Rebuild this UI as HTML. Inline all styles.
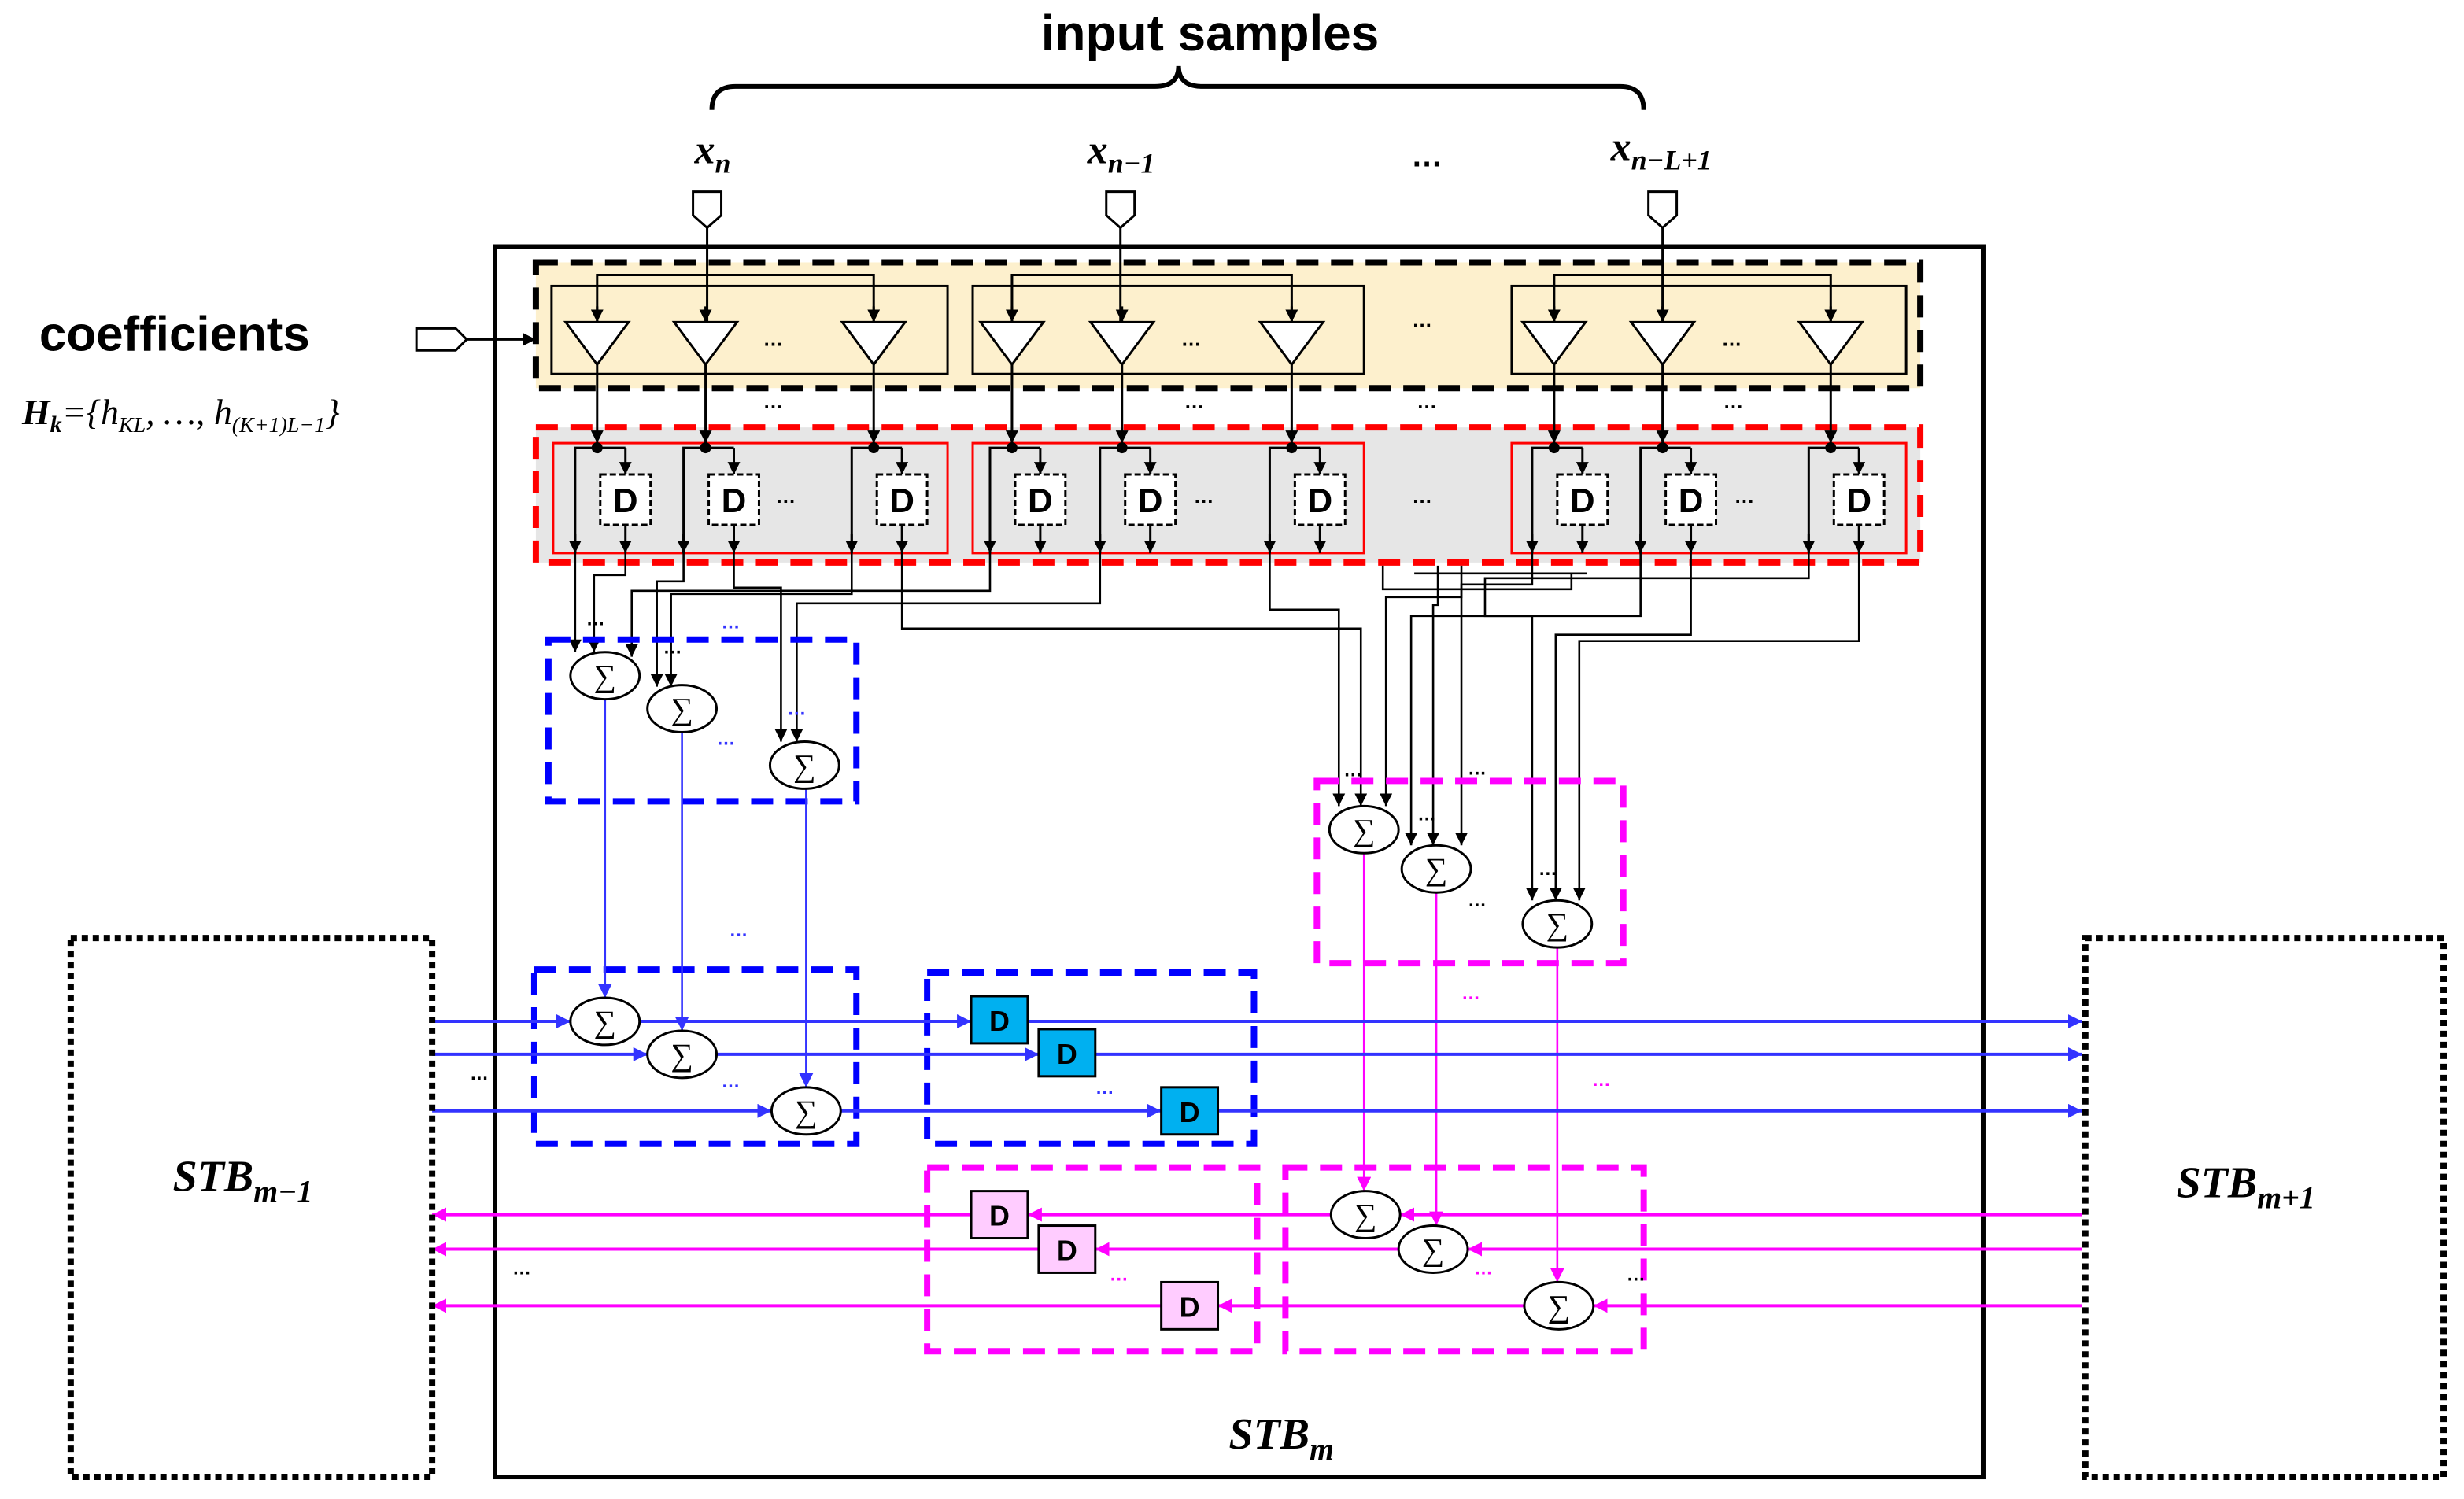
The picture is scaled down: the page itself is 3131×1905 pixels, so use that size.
<!DOCTYPE html>
<html><head><meta charset="utf-8"><style>
html,body{margin:0;padding:0;background:#fff;}
svg{display:block;}
text{font-family:"Liberation Sans",sans-serif;}
text.s,.s text,.s tspan{font-family:"Liberation Serif",serif;}
</style></head><body>
<svg width="3131" height="1905" viewBox="0 0 1568 954" preserveAspectRatio="none" xmlns="http://www.w3.org/2000/svg">
<defs>
<marker id="ak" viewBox="0 0 10 10" refX="10" refY="5" markerWidth="8" markerHeight="8" markerUnits="userSpaceOnUse" orient="auto"><path d="M0,0L10,5L0,10z" fill="#000"/></marker>
<marker id="ab" viewBox="0 0 10 10" refX="10" refY="5" markerWidth="9" markerHeight="9" markerUnits="userSpaceOnUse" orient="auto"><path d="M0,0L10,5L0,10z" fill="#3333ff"/></marker>
<marker id="am" viewBox="0 0 10 10" refX="10" refY="5" markerWidth="9" markerHeight="9" markerUnits="userSpaceOnUse" orient="auto"><path d="M0,0L10,5L0,10z" fill="#ff00ff"/></marker>
</defs>

<!-- header -->
<text x="770" y="32" font-size="32" font-weight="bold" text-anchor="middle">input samples</text>
<path d="M453,70 Q453,55 468,55 L735,55 Q750,55 750,42 Q750,55 765,55 L1031,55 Q1046,55 1046,70" fill="none" stroke="#000" stroke-width="3"/>
<text x="442" y="104" class="s" font-size="26" font-weight="bold" font-style="italic">x<tspan font-size="18" dy="6">n</tspan></text>
<text x="692" y="104" class="s" font-size="26" font-weight="bold" font-style="italic">x<tspan font-size="18" dy="6">n−1</tspan></text>
<text x="908" y="106" font-size="20" font-weight="bold" text-anchor="middle">…</text>
<text x="1025" y="102" class="s" font-size="26" font-weight="bold" font-style="italic">x<tspan font-size="18" dy="6">n−L+1</tspan></text>
<g fill="#fff" stroke="#000" stroke-width="1.5">
<path d="M441,122 H459 V137 L450,145 L441,137 Z"/>
<path d="M704,122 H722 V137 L713,145 L704,137 Z"/>
<path d="M1049,122 H1067 V137 L1058,145 L1049,137 Z"/>
</g>

<!-- STB m box -->
<rect x="315" y="157" width="947" height="783" fill="none" stroke="#000" stroke-width="3"/>

<!-- coefficients -->
<text x="25" y="223" font-size="31" font-weight="bold">coefficients</text>
<path d="M265,209 H290 L297,216 L290,223 H265 Z" fill="#fff" stroke="#000" stroke-width="1.5"/>
<line x1="297" y1="216" x2="341" y2="216" stroke="#000" stroke-width="1.5" marker-end="url(#ak)"/>
<text x="14" y="270" class="s" font-size="23" font-style="italic"><tspan font-weight="bold">H</tspan><tspan font-size="15" dy="5" font-weight="bold">k</tspan><tspan dy="-5">={h</tspan><tspan font-size="14" dy="5">KL</tspan><tspan dy="-5">, …, h</tspan><tspan font-size="14" dy="5">(K+1)L−1</tspan><tspan dy="-5">}</tspan></text>

<!-- yellow region -->
<rect x="341" y="167" width="881" height="80" fill="#fdf0cd" stroke="#000" stroke-width="4" stroke-dasharray="14,8"/>
<g fill="none" stroke="#000" stroke-width="1.5">
<rect x="351" y="182" width="252" height="56"/>
<rect x="619" y="182" width="249" height="56"/>
<rect x="962" y="182" width="251" height="56"/>
</g>
<!-- red region -->
<rect x="341" y="272" width="881" height="86" fill="#e6e6e6" stroke="#ff0000" stroke-width="4" stroke-dasharray="14,8"/>
<g fill="none" stroke="#ff0000" stroke-width="1.5">
<rect x="352" y="282" width="251" height="70"/>
<rect x="619" y="282" width="249" height="70"/>
<rect x="962" y="282" width="251" height="70"/>
</g>

<!-- distribution -->
<g fill="none" stroke="#000" stroke-width="1.5">
<path d="M380,205 V175 H556 V205"/>
<path d="M644,205 V175 H822 V205"/>
<path d="M989,205 V175 H1165 V205"/>
<line x1="450" y1="145" x2="450" y2="205"/>
<line x1="713" y1="145" x2="713" y2="205"/>
<line x1="1058" y1="145" x2="1058" y2="205"/>
</g>
<g stroke="#000" stroke-width="1.5" marker-end="url(#ak)">
<line x1="380" y1="195" x2="380" y2="205"/><line x1="449" y1="195" x2="449" y2="205"/><line x1="556" y1="195" x2="556" y2="205"/>
<line x1="644" y1="195" x2="644" y2="205"/><line x1="714" y1="195" x2="714" y2="205"/><line x1="822" y1="195" x2="822" y2="205"/>
<line x1="989" y1="195" x2="989" y2="205"/><line x1="1058" y1="195" x2="1058" y2="205"/><line x1="1165" y1="195" x2="1165" y2="205"/>
</g>
<!-- triangles -->
<g fill="#fff" stroke="#000" stroke-width="1.5">
<polygon points="360,205 400,205 380,232"/><polygon points="429,205 469,205 449,232"/><polygon points="536,205 576,205 556,232"/>
<polygon points="624,205 664,205 644,232"/><polygon points="694,205 734,205 714,232"/><polygon points="802,205 842,205 822,232"/>
<polygon points="969,205 1009,205 989,232"/><polygon points="1038,205 1078,205 1058,232"/><polygon points="1145,205 1185,205 1165,232"/>
</g>
<g font-size="13" font-weight="bold" text-anchor="middle">
<text x="492" y="220">…</text><text x="758" y="220">…</text><text x="905" y="208">…</text><text x="1102" y="220">…</text>
<text x="492" y="260">…</text><text x="760" y="260">…</text><text x="908" y="260">…</text><text x="1103" y="260">…</text>
<text x="500" y="320">…</text><text x="766" y="320">…</text><text x="905" y="320">…</text><text x="1110" y="320">…</text>
</g>

<!-- triangle outputs, taps, D -->
<g stroke="#000" stroke-width="1.5" fill="none">
<path d="M366,352 V285 H398" /><path d="M435,352 V285 H467"/><path d="M542,352 V285 H574"/>
<path d="M630,352 V285 H662" /><path d="M700,352 V285 H732"/><path d="M808,352 V285 H840"/>
<path d="M975,352 V285 H1007" /><path d="M1044,352 V285 H1076"/><path d="M1151,352 V285 H1183"/>
</g>
<g stroke="#000" stroke-width="1.5" marker-end="url(#ak)">
<line x1="380" y1="232" x2="380" y2="282"/><line x1="449" y1="232" x2="449" y2="282"/><line x1="556" y1="232" x2="556" y2="282"/>
<line x1="644" y1="232" x2="644" y2="282"/><line x1="714" y1="232" x2="714" y2="282"/><line x1="822" y1="232" x2="822" y2="282"/>
<line x1="989" y1="232" x2="989" y2="282"/><line x1="1058" y1="232" x2="1058" y2="282"/><line x1="1165" y1="232" x2="1165" y2="282"/>
<line x1="366" y1="340" x2="366" y2="352"/><line x1="435" y1="340" x2="435" y2="352"/><line x1="542" y1="340" x2="542" y2="352"/>
<line x1="630" y1="340" x2="630" y2="352"/><line x1="700" y1="340" x2="700" y2="352"/><line x1="808" y1="340" x2="808" y2="352"/>
<line x1="975" y1="340" x2="975" y2="352"/><line x1="1044" y1="340" x2="1044" y2="352"/><line x1="1151" y1="340" x2="1151" y2="352"/>
<line x1="398" y1="285" x2="398" y2="302"/><line x1="467" y1="285" x2="467" y2="302"/><line x1="574" y1="285" x2="574" y2="302"/>
<line x1="662" y1="285" x2="662" y2="302"/><line x1="732" y1="285" x2="732" y2="302"/><line x1="840" y1="285" x2="840" y2="302"/>
<line x1="1007" y1="285" x2="1007" y2="302"/><line x1="1076" y1="285" x2="1076" y2="302"/><line x1="1183" y1="285" x2="1183" y2="302"/>
<line x1="398" y1="334" x2="398" y2="352"/><line x1="467" y1="334" x2="467" y2="352"/><line x1="574" y1="334" x2="574" y2="352"/>
<line x1="662" y1="334" x2="662" y2="352"/><line x1="732" y1="334" x2="732" y2="352"/><line x1="840" y1="334" x2="840" y2="352"/>
<line x1="1007" y1="334" x2="1007" y2="352"/><line x1="1076" y1="334" x2="1076" y2="352"/><line x1="1183" y1="334" x2="1183" y2="352"/>
</g>
<g fill="#000">
<circle cx="380" cy="285" r="3.5"/><circle cx="449" cy="285" r="3.5"/><circle cx="556" cy="285" r="3.5"/>
<circle cx="644" cy="285" r="3.5"/><circle cx="714" cy="285" r="3.5"/><circle cx="822" cy="285" r="3.5"/>
<circle cx="989" cy="285" r="3.5"/><circle cx="1058" cy="285" r="3.5"/><circle cx="1165" cy="285" r="3.5"/>
</g>
<g fill="#fff" stroke="#000" stroke-width="1.5" stroke-dasharray="4,2">
<rect x="382" y="302" width="32" height="32"/><rect x="451" y="302" width="32" height="32"/><rect x="558" y="302" width="32" height="32"/>
<rect x="646" y="302" width="32" height="32"/><rect x="716" y="302" width="32" height="32"/><rect x="824" y="302" width="32" height="32"/>
<rect x="991" y="302" width="32" height="32"/><rect x="1060" y="302" width="32" height="32"/><rect x="1167" y="302" width="32" height="32"/>
</g>
<g font-size="22" font-weight="bold" text-anchor="middle">
<text x="398" y="326">D</text><text x="467" y="326">D</text><text x="574" y="326">D</text>
<text x="662" y="326">D</text><text x="732" y="326">D</text><text x="840" y="326">D</text>
<text x="1007" y="326">D</text><text x="1076" y="326">D</text><text x="1183" y="326">D</text>
</g>

<!-- routing to top sigmas -->
<g fill="none" stroke="#000" stroke-width="1.3" marker-end="url(#ak)">
<path d="M366,352 V415"/>
<path d="M398,352 V366 H378 V415"/>
<path d="M630,352 V376 H402 V418"/>
<path d="M435,352 V370 H418 V437"/>
<path d="M542,352 V378 H427 V437"/>
<path d="M467,352 V374 H497 V472"/>
<path d="M700,352 V384 H507 V472"/>
<path d="M808,352 V388 H852 V513"/>
<path d="M574,352 V400 H866 V513"/>
<path d="M930,360 V380 H882 V513"/>
<path d="M1044,352 V392 H898 V538"/>
<path d="M915,360 V385 H912 V538"/>
<path d="M975,352 V372 H930 V538"/>
<path d="M1151,352 V368 H945 V392 H975 V573"/>
<path d="M1076,352 V404 H990 V573"/>
<path d="M1183,352 V408 H1005 V573"/>
</g>
<g fill="none" stroke="#000" stroke-width="1.3">
<path d="M880,360 V375 H1000 V365"/>
<path d="M900,365 H1010"/>
</g>

<!-- blue dashed boxes -->
<g fill="none" stroke="#0000ff" stroke-width="4" stroke-dasharray="14,8">
<rect x="349" y="407" width="196" height="103"/>
<rect x="340" y="617" width="205" height="111"/>
<rect x="590" y="619" width="208" height="109"/>
</g>
<g fill="none" stroke="#ff00ff" stroke-width="4" stroke-dasharray="14,8">
<rect x="838" y="497" width="195" height="116"/>
<rect x="590" y="743" width="210" height="117"/>
<rect x="818" y="743" width="228" height="117"/>
</g>

<!-- vertical connectors -->
<g stroke="#3333ff" stroke-width="1.3" marker-end="url(#ab)">
<line x1="385" y1="445" x2="385" y2="635"/>
<line x1="434" y1="466" x2="434" y2="656"/>
<line x1="513" y1="502" x2="513" y2="692"/>
</g>
<g stroke="#ff00ff" stroke-width="1.3" marker-end="url(#am)">
<line x1="868" y1="543" x2="868" y2="758"/>
<line x1="914" y1="568" x2="914" y2="780"/>
<line x1="991" y1="603" x2="991" y2="816"/>
</g>

<!-- horizontal buses -->
<g stroke="#3333ff" stroke-width="2" marker-end="url(#ab)">
<line x1="275" y1="650" x2="363" y2="650"/>
<line x1="407" y1="650" x2="618" y2="650"/>
<line x1="654" y1="650" x2="1325" y2="650"/>
<line x1="275" y1="671" x2="412" y2="671"/>
<line x1="456" y1="671" x2="661" y2="671"/>
<line x1="697" y1="671" x2="1325" y2="671"/>
<line x1="275" y1="707" x2="491" y2="707"/>
<line x1="535" y1="707" x2="739" y2="707"/>
<line x1="775" y1="707" x2="1325" y2="707"/>
</g>
<g stroke="#ff00ff" stroke-width="2" marker-end="url(#am)">
<line x1="1325" y1="773" x2="891" y2="773"/>
<line x1="847" y1="773" x2="654" y2="773"/>
<line x1="618" y1="773" x2="275" y2="773"/>
<line x1="1325" y1="795" x2="934" y2="795"/>
<line x1="890" y1="795" x2="697" y2="795"/>
<line x1="661" y1="795" x2="275" y2="795"/>
<line x1="1325" y1="831" x2="1014" y2="831"/>
<line x1="970" y1="831" x2="775" y2="831"/>
<line x1="739" y1="831" x2="275" y2="831"/>
</g>

<!-- sigmas -->
<g fill="#fff" stroke="#000" stroke-width="1.5">
<ellipse cx="385" cy="430" rx="22" ry="15"/><ellipse cx="434" cy="451" rx="22" ry="15"/><ellipse cx="512" cy="487" rx="22" ry="15"/>
<ellipse cx="868" cy="528" rx="22" ry="15"/><ellipse cx="914" cy="553" rx="22" ry="15"/><ellipse cx="991" cy="588" rx="22" ry="15"/>
<ellipse cx="385" cy="650" rx="22" ry="15"/><ellipse cx="434" cy="671" rx="22" ry="15"/><ellipse cx="513" cy="707" rx="22" ry="15"/>
<ellipse cx="869" cy="773" rx="22" ry="15"/><ellipse cx="912" cy="795" rx="22" ry="15"/><ellipse cx="992" cy="831" rx="22" ry="15"/>
</g>
<g class="s" font-size="20" text-anchor="middle">
<text x="385" y="437">∑</text><text x="434" y="458">∑</text><text x="512" y="494">∑</text>
<text x="868" y="535">∑</text><text x="914" y="560">∑</text><text x="991" y="595">∑</text>
<text x="385" y="657">∑</text><text x="434" y="678">∑</text><text x="513" y="714">∑</text>
<text x="869" y="780">∑</text><text x="912" y="802">∑</text><text x="992" y="838">∑</text>
</g>

<!-- delay squares -->
<g stroke="#000" stroke-width="1.5">
<rect x="618" y="634" width="36" height="30" fill="#00b0f0"/>
<rect x="661" y="655" width="36" height="30" fill="#00b0f0"/>
<rect x="739" y="692" width="36" height="30" fill="#00b0f0"/>
<rect x="618" y="758" width="36" height="30" fill="#ffccff"/>
<rect x="661" y="780" width="36" height="30" fill="#ffccff"/>
<rect x="739" y="816" width="36" height="30" fill="#ffccff"/>
</g>
<g font-size="18" font-weight="bold" text-anchor="middle">
<text x="636" y="656">D</text><text x="679" y="677">D</text><text x="757" y="714">D</text>
<text x="636" y="780">D</text><text x="679" y="802">D</text><text x="757" y="838">D</text>
</g>

<!-- dots -->
<g font-size="12" font-weight="bold" text-anchor="middle" fill="#3333ff">
<text x="465" y="400">…</text><text x="507" y="455">…</text><text x="462" y="474">…</text><text x="470" y="596">…</text>
<text x="465" y="692">…</text><text x="703" y="696">…</text>
</g>
<g font-size="12" font-weight="bold" text-anchor="middle" fill="#ff00ff">
<text x="936" y="636">…</text><text x="1019" y="691">…</text><text x="712" y="815">…</text><text x="944" y="811">…</text>
</g>
<g font-size="12" font-weight="bold" text-anchor="middle">
<text x="379" y="398">…</text><text x="428" y="416">…</text><text x="861" y="494">…</text><text x="940" y="493">…</text>
<text x="908" y="522">…</text><text x="940" y="577">…</text><text x="985" y="557">…</text>
<text x="305" y="687">…</text><text x="332" y="811">…</text><text x="1041" y="815">…</text>
</g>

<!-- neighbor STBs -->
<g fill="none" stroke="#000" stroke-width="4" stroke-dasharray="4,3">
<rect x="45" y="597" width="230" height="343"/>
<rect x="1327" y="597" width="228" height="343"/>
</g>
<text x="110" y="758" class="s" font-size="28" font-weight="bold" font-style="italic">STB<tspan font-size="20" dy="7">m−1</tspan></text>
<text x="1385" y="762" class="s" font-size="28" font-weight="bold" font-style="italic">STB<tspan font-size="20" dy="7">m+1</tspan></text>
<text x="782" y="922" class="s" font-size="28" font-weight="bold" font-style="italic">STB<tspan font-size="20" dy="7">m</tspan></text>
</svg>
</body></html>
